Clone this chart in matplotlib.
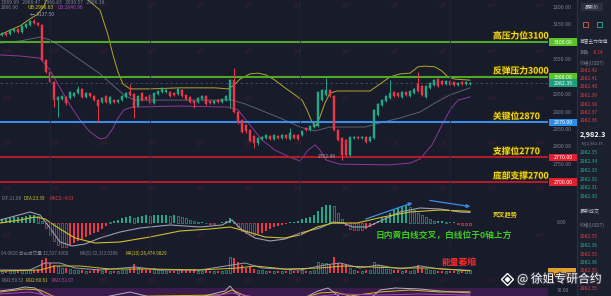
import numpy as np
import matplotlib
matplotlib.use('Agg')
import matplotlib.pyplot as plt
from matplotlib.patches import Rectangle, FancyArrowPatch
import matplotlib.transforms as mtransforms
import matplotlib.patheffects as pe

plt.rcParams['font.family'] = ['Noto Sans CJK SC', 'DejaVu Sans']

# ---------------- DATA ----------------
opens = [3120,3126,3123,3131,3137,3129,3143,3149,3160,3154,
         3149,3049,3014,2986,2934,2937,2943,2940,2946,2954,
         2966,2943,2954,2946,2934,2929,2946,2926,2934,2929,
         2934,2943,2957,2951,2917,2954,2943,2949,2926,2951,
         2957,2957,2957,2954,2951,2963,2949,2943,2931,2929,
         2937,2946,2931,2926,2934,2929,2934,2934,2991,2900,
         2877,2863,2849,2831,2811,2823,2826,2831,2823,2831,
         2826,2834,2823,2834,2834,2834,2854,2849,2857,2860,
         2934,2949,2963,2946,2849,2826,2820,2777,2826,2829,
         2826,2829,2817,2826,2891,2920,2931,2940,2957,2954,
         2943,2957,2946,2954,2980,2974,2943,2969,2977,2994,
         2989,2980,2989,2986,2977,2986,2980,2980]
closes = [3126,3120,3134,3137,3129,3146,3151,3160,3154,3149,
          3049,3014,2986,2934,2943,2946,2926,2957,2954,2966,
          2943,2954,2946,2934,2917,2940,2929,2943,2929,2934,
          2946,2954,2949,2911,2946,2934,2937,2926,2954,2960,
          2969,2963,2946,2949,2966,2946,2937,2929,2926,2940,
          2946,2923,2926,2931,2929,2937,2946,2991,2900,2871,
          2843,2846,2817,2811,2826,2829,2834,2823,2834,2826,
          2834,2826,2840,2826,2823,2846,2849,2860,2866,2957,
          2963,2963,2946,2849,2820,2777,2777,2829,2829,2826,
          2829,2814,2829,2906,2923,2934,2946,2954,2946,2946,
          2957,2949,2960,2966,2960,2949,2974,2983,2991,2974,
          2980,2989,2977,2977,2983,2980,2986,2983]
highs = [3129,3129,3137,3140,3140,3149,3154,3163,3166,3157,
         3152,3052,3017,2989,2946,2949,2946,2960,2957,2974,
         2969,2957,2954,2949,2937,2943,2949,2946,2937,2937,
         2949,2957,2980,2954,2949,2957,2946,2951,2957,2963,
         2972,2966,2960,2957,2969,2966,2951,2946,2934,2943,
         2949,2949,2934,2934,2937,2940,2949,2994,3026,2903,
         2880,2866,2851,2834,2829,2831,2837,2834,2837,2834,
         2837,2837,2854,2837,2837,2849,2857,2863,2869,2960,
         2966,2997,2966,2949,2851,2829,2823,2831,2831,2831,
         2831,2831,2831,2909,2926,2937,2949,2991,2960,2957,
         2960,2960,2963,2969,3014,2977,2977,2986,2994,2997,
         2992,2992,2992,2989,2986,2989,2989,2986]
lows = [3117,3117,3120,3128,3126,3126,3140,3146,3151,3146,
        3046,3011,2983,2914,2886,2934,2920,2937,2943,2951,
        2940,2940,2943,2931,2871,2926,2926,2923,2926,2926,
        2931,2940,2946,2883,2914,2931,2934,2920,2923,2949,
        2954,2954,2943,2946,2949,2943,2934,2926,2911,2926,
        2934,2920,2923,2923,2926,2926,2931,2911,2897,2866,
        2840,2840,2814,2797,2806,2820,2823,2820,2820,2823,
        2823,2823,2820,2823,2820,2831,2846,2846,2854,2857,
        2931,2946,2943,2846,2817,2763,2774,2774,2823,2823,
        2823,2811,2814,2823,2889,2917,2929,2937,2943,2943,
        2940,2946,2943,2951,2957,2946,2940,2966,2974,2971,
        2977,2977,2974,2974,2974,2977,2977,2977]

# volume (thousands)
vol_k = [24,24,36,24,24,36,36,36,36,48,
         156,180,120,96,84,60,60,48,36,36,
         36,24,24,36,48,24,36,24,24,24,
         36,36,48,108,60,48,36,36,60,36,
         36,24,24,24,36,36,36,36,48,24,
         24,36,24,24,24,24,36,192,180,132,
         96,60,72,48,36,36,24,24,24,24,
         24,24,36,24,24,36,24,24,36,132,
         120,120,96,192,120,120,96,60,36,24,
         24,36,36,132,96,84,48,48,36,36,
         24,36,24,36,96,60,48,36,36,24,
         24,24,24,24,24,24,36,36]

macd_hist = [8,10,10,12,12,12,14,16,16,14,
             4,-10,-24,-36,-44,-48,-48,-44,-40,-36,
             -32,-28,-24,-20,-18,-12,-6,2,4,6,
             10,12,14,10,12,14,16,14,16,16,
             16,16,14,16,14,12,10,6,4,2,
             2,1,-1,-1,1,2,4,10,2,-8,
             -16,-20,-24,-24,-22,-20,-16,-12,-8,-6,
             -4,-2,2,2,4,8,10,12,16,24,
             32,36,36,34,20,8,-6,-12,-14,-14,
             -14,-12,-8,-4,4,10,14,20,26,30,
             34,36,32,26,20,16,12,8,4,4,
             4,2,2,2,-2,-3,-4,-4.63]

# line series: (candle index, value)
boll_up_x = [-0.5,2,4.5,7,9,10.5,12,15,18.5,21.5,24.5,26.5,27.75,29,30.25,32,37,44.5,53.25,56.5,58,59.5,62,64,66,68.25,70.75,73.25,75,76.25,77.5,78.5,79.5,80.75,82,83.75,92,94.5,97,99.5,102,104,105.75,108.25,110,111.5,113.25,117]
boll_up = [3120,3134,3146,3166,3180,3203,3243,3306,3277,3220,3191,3120,3063,3014,2980,2966,2966,2969,2969,2966,2977,2994,3009,3011,3006,2991,2969,2949,2934,2906,2871,2860,2886,2926,2954,2960,2960,2980,3000,3009,3011,3029,3031,3029,3017,3000,2994,2991]
boll_mid_x = [-0.5,4.5,9.5,12,14.5,19.5,24.5,28.25,30.75,33.25,39.5,49.5,57.5,60.75,64.5,69.5,74.5,78.25,82,90.75,94.5,99.5,104.5,108.25,112,117]
boll_mid = [3097,3103,3114,3106,3089,3049,3009,2971,2946,2934,2934,2934,2934,2923,2906,2883,2857,2846,2857,2857,2869,2883,2900,2926,2949,2969]
boll_low_x = [-0.5,4.5,9.5,12,14.5,17,19.5,22,24.5,26,27.5,29,30.5,32.5,44.5,56.5,59,62,65,68.25,72,74.5,76.5,78.25,79.5,81,84.5,97,102,104.5,107.5,110,112,114,117]
boll_low = [3063,3060,3054,3020,2969,2920,2877,2843,2823,2826,2849,2883,2906,2914,2917,2914,2906,2863,2820,2791,2771,2760,2791,2806,2791,2763,2751,2749,2754,2766,2806,2863,2906,2934,2943]

dif_x = [-0.5,3.25,7,9.5,12,14.5,17.5,20.75,24.5,29.5,34.5,42,49.5,55,57.5,60,63.25,67,70.75,74.5,79.5,82.75,85.25,87.75,91.25,96.25,99.5,104.5,109.5,114.5,117]
dif = [6,14,22,16,-10,-38,-46,-42,-30,-18,-10,-4,-8,-4,6,-14,-30,-36,-32,-20,-10,2,0,-8,-8,10,22,30,28,22,21.08]
dea_x = [-0.5,4.5,8.25,10.75,14.5,18.25,23.25,29.5,37,44.5,52,57,60.75,65.75,70.75,74.5,78.75,82.75,88.75,95.25,102,109.5,115.25,117]
dea = [0,6,12,8,-12,-30,-40,-38,-28,-16,-12,-8,-16,-28,-30,-24,-8,0,0,12,22,26,24,23.39]

vma5_x = [-0.5,7,10.75,14.5,18.25,24.5,33.25,39.5,49.5,57.5,60.75,65,74.5,80.75,84.5,89.5,94,99.5,104.5,109.5,117]
vma5 = [36,36,120,120,60,36,72,36,36,96,120,60,36,96,120,60,96,48,84,48,32]
vma10_x = [-0.5,9.5,13.25,19.5,27,37,49.5,59,63.25,70.75,79.5,85.25,92,99.5,107,117]
vma10 = [24,36,84,84,48,48,36,60,84,48,60,84,72,60,60,26]

rsi1_x = [-0.5,3.25,5.75,8.25,10.75,13.25,24.5,32,37,49.5,55.75,57,58.5,60.75,74.5,79,81.5,84.5,92.5,94.5,98.25,104.5,109.5,117]
rsi1 = [62.5,67.5,72.5,70,50,40,45,60,47.5,47.5,62.5,75,57.5,40,40,62.5,70,47.5,47.5,65,70,67.5,62.5,57.5]
rsi2_x = [-0.5,5.75,9.5,13.25,24.5,37,54.5,57.5,62,74.5,79.5,83.25,87,94.5,102,109.5,117]
rsi2 = [60,67.5,65,47.5,45,50,52.5,65,45,42.5,57.5,60,50,60,65,60,60.61]
rsi3_x = [-0.5,7,12,24.5,49.5,57.5,64.5,79.5,84.5,94.5,104.5,117]
rsi3 = [55,60,50,42.5,45,57.5,45,50,55,52.5,55,52.07]

levels = [3100, 3000, 2870, 2770, 2700]
level_names = ['高压力位3100', '反弹压力3000', '关键位2870', '支撑位2770', '底部支撑2700']
level_colors = ['#4fa826', '#4fa826', '#3a8ee6', '#b01c2a', '#b01c2a']
box_colors = ['#5cc22a', '#5cc22a', '#2f8fe8', '#e0202e', '#e0202e']
axis_ticks = [3200, 3150, 3050, 2950, 2900, 2850, 2800, 2750]
last_price = 2982.35

ask_prices = ['2982.42', '2982.41', '2982.40', '2982.39', '2982.38', '2982.37', '2982.36']
bid_prices = ['2982.35', '2982.34', '2982.33', '2982.32', '2982.31', '2982.30']
trade_prices = ['2982.35', '2982.36', '2982.35', '2982.36', '2982.35', '2982.35', '2982.35']
trade_up = [False, True, False, True, False, False, False]

# ---------------- STYLE ----------------
W, H = 611, 296
BG = '#181b2a'
GREEN = '#22a884'
RED = '#e8394a'
GRAYTXT = '#7d8294'

fig = plt.figure(figsize=(W/100, H/100), dpi=100, facecolor=BG)

def px_axes(x0, y0, x1, y1):
    return fig.add_axes([x0/W, 1 - y1/H, (x1-x0)/W, (y1-y0)/H])

CH_R = 548
ax = px_axes(0, 0, CH_R, 195)
ax_m = px_axes(0, 195, CH_R, 250)
ax_v = px_axes(0, 250, CH_R, 276)
ax_r = px_axes(0, 276, CH_R, 296)
ov = fig.add_axes([0, 0, 1, 1], zorder=10)
ov.set_xlim(0, W); ov.set_ylim(H, 0); ov.axis('off'); ov.patch.set_alpha(0)

XL = (-0.5, (CH_R - 2) / 4)
for a in (ax, ax_m, ax_v, ax_r):
    a.set_facecolor(BG)
    a.set_xlim(*XL)
    a.set_xticks([]); a.set_yticks([])
    for s in a.spines.values():
        s.set_visible(False)

ax.set_ylim(3000 - 118/0.35, 3220)
ax_m.set_ylim(-54, 56)
ax_v.set_ylim(-36, 276)
ax_r.set_ylim(50, 100)

# right panel background
ov.add_patch(Rectangle((577, 0), 34, H, fc='#1c1f2e', ec='none', zorder=0))
ov.plot([577, 577], [0, H], color='#2c3042', lw=0.8)

# watermarks
for gy in [5, 51, 98, 143, 188, 235, 280]:
    for gx in np.arange(7, 545, 48.5):
        ov.text(gx, gy, 'DKX', color='#6a2a38', fontsize=3.2, alpha=0.5,
                rotation=18, ha='center', va='center', zorder=1)

# faint grid
for gx in [50, 150, 300, 450]:
    ov.plot([gx, gx], [0, 250], color='#20243a', lw=0.5, zorder=0.5)

# candles
idx = np.arange(len(opens))
for i in idx:
    o, c, h, l = opens[i], closes[i], highs[i], lows[i]
    col = GREEN if c >= o else RED
    ax.vlines(i, l, h, color=col, lw=0.7, zorder=3)
    ax.add_patch(Rectangle((i - 0.36, min(o, c)), 0.72, max(abs(c - o), 1.5),
                           fc=col, ec=col, lw=0.3, zorder=4))

# bollinger
ax.plot(boll_up_x, boll_up, color='#b4a62a', lw=0.7, zorder=2)
ax.plot(boll_mid_x, boll_mid, color='#5c6174', lw=0.7, zorder=2)
ax.plot(boll_low_x, boll_low, color='#8e3898', lw=0.7, zorder=2)

# current price dashed
ax.axhline(last_price, color='#4a5064', lw=0.6, ls=(0, (3, 3)), zorder=1)

# level lines
for lv, col in zip(levels, level_colors):
    ax.axhline(lv, color=col, lw=1.5, zorder=2.5)

yel = '#f2dc1e'
for lv, name in zip(levels, level_names):
    ax.text((493 - 2) / 4, lv + 4, name, color=yel, fontsize=6.3, fontweight='bold',
            ha='left', va='bottom', zorder=6,
            path_effects=[pe.withStroke(linewidth=1.2, foreground='#3a3010')])

# price axis labels
bt = mtransforms.blended_transform_factory(ov.transData, ax.transData)
for t in axis_ticks:
    ov.text(553, t, f'{t:.2f}', transform=bt, color=GRAYTXT, fontsize=3.8,
            ha='left', va='center')
for lv, bc in zip(levels, box_colors):
    ov.add_patch(Rectangle((549, lv - 11), 28, 22, transform=bt, fc=bc, ec='none', zorder=5))
    ov.text(563, lv, f'{lv:.2f}', transform=bt, color='white', fontsize=3.8,
            ha='center', va='center', zorder=6)
ov.add_patch(Rectangle((549, last_price - 11), 28, 22, transform=bt, fc='#1f9c7c', ec='none', zorder=5))
ov.text(563, last_price, f'{last_price:.2f}', transform=bt, color='white', fontsize=3.8,
        ha='center', va='center', zorder=6)

# top title texts
ov.text(1, 2.5, '3069.99   2968.47   2966.83   3030.57   2996.38', color=GRAYTXT, fontsize=3.6, va='center')
ov.text(1, 7.5, '2966.90', color=GRAYTXT, fontsize=3.6, va='center')
ov.text(27, 7.5, 'UB:2996.63', color='#d8c82a', fontsize=3.6, va='center')
ov.text(57, 7.5, 'LB:2840.96', color='#b048b8', fontsize=3.6, va='center')
ov.text(30, 14, '← 3137.50', color='#a0a4b4', fontsize=3.6, va='center')
ov.text(318, 156, '2762.48', color='#a0a4b4', fontsize=3.6, va='center')

# ---------------- MACD ----------------
for i in idx:
    v = macd_hist[i]
    prev = macd_hist[i - 1] if i > 0 else v
    col = GREEN if v >= 0 else RED
    growing = abs(v) >= abs(prev)
    if (v >= 0 and growing) or (v < 0 and not growing):
        ax_m.bar(i, v, width=0.62, color=col, lw=0)
    else:
        ax_m.bar(i, v, width=0.62, color='none', edgecolor=col, lw=0.5)
ax_m.plot(dif_x, dif, color='#9a9eb0', lw=0.8)
ax_m.plot(dea_x, dea, color='#cfc02a', lw=0.8)
ov.text(1, 198, 'DIF:21.08', color=GRAYTXT, fontsize=3.3, va='center')
ov.text(24, 198, 'DEA:23.39', color='#d8c82a', fontsize=3.3, va='center')
ov.text(49, 198, 'MACD:-4.63', color='#e0404e', fontsize=3.3, va='center')
ov.text(557, 223, '0.00', color=GRAYTXT, fontsize=3.6, va='center')

ov.add_patch(FancyArrowPatch((363, 220), (415, 202), arrowstyle='-|>', mutation_scale=5,
                             color='#3a8ee6', lw=0.9))
ov.add_patch(FancyArrowPatch((427, 200), (473, 207), arrowstyle='-|>', mutation_scale=5,
                             color='#3a8ee6', lw=0.9))
ov.text(493, 214, '死叉趋势', color='#e8d020', fontsize=4.5, fontweight='bold', va='center')
ov.text(376, 235, '日内黄白线交叉，白线位于0轴上方', color='#3cc820', fontsize=6.3,
        fontweight='bold', va='center')

# ---------------- VOLUME ----------------
for i in idx:
    col = GREEN if closes[i] >= opens[i] else RED
    if closes[i] >= opens[i]:
        ax_v.bar(i, vol_k[i], width=0.62, color='none', edgecolor=col, lw=0.5)
    else:
        ax_v.bar(i, vol_k[i], width=0.62, color=col, lw=0)
ax_v.plot(vma5_x, vma5, color='#9a9eb0', lw=0.7)
ax_v.plot(vma10_x, vma10, color='#cfc02a', lw=0.7)
ov.text(1, 253, '04.0610 当前成交量 32,527.4300', color=GRAYTXT, fontsize=3.3, va='center')
ov.text(80, 253, 'MA(5):32,313.0306', color=GRAYTXT, fontsize=3.3, va='center')
ov.text(126, 253, 'MA(10):26,474.9829', color='#d8c82a', fontsize=3.3, va='center')
ov.text(442, 262, '能量萎缩', color='#ff2a2a', fontsize=6.3, fontweight='bold', va='center')

# ---------------- RSI ----------------
ax_r.axhspan(30, 70, color='#3b1a4c', lw=0)
ax_r.plot(rsi1_x, rsi1, color='#b0b4c4', lw=0.7)
ax_r.plot(rsi2_x, rsi2, color='#cfc02a', lw=0.7)
ax_r.plot(rsi3_x, rsi3, color='#b048b8', lw=0.7)
ov.text(1, 281, 'RSI1:59.53', color=GRAYTXT, fontsize=3.3, va='center')
ov.text(26, 281, 'RSI2:60.61', color='#d8c82a', fontsize=3.3, va='center')
ov.text(51, 281, 'RSI3:52.07', color='#b048b8', fontsize=3.3, va='center')
ov.text(557, 290, '70.00', color=GRAYTXT, fontsize=3.6, va='center')

# ---------------- RIGHT PANEL ----------------
ov.add_patch(Rectangle((581, 3), 22, 8, fc='#2c3042', ec='none'))
ov.text(592, 7, '最新价', color='#c0c4d0', fontsize=3.4, ha='center', va='center')
ov.add_patch(Rectangle((583, 22), 5, 5, fc='none', ec='#e0603a', lw=0.6))
ov.add_patch(Rectangle((597, 22), 5, 5, fc='none', ec='#2ab090', lw=0.6))
ov.text(580, 41, '首富主力估值', color='#c0c4d0', fontsize=3.4, va='center')
ov.text(580, 52, '涨跌', color=GRAYTXT, fontsize=3.4, va='center')
ov.text(593, 52, '-0.14', color=RED, fontsize=3.4, va='center')
ov.text(580, 63, '价格(USDT)', color=GRAYTXT, fontsize=3.4, va='center')
for k, p in enumerate(ask_prices):
    ov.text(580, 70 + k * 8.5, p, color='#d8404e', fontsize=3.6, va='center')
ov.text(580, 134, '2,982.3', color='white', fontsize=5.2, fontweight='bold', va='center')
ov.text(580, 143, '≈$2,982.35', color=GRAYTXT, fontsize=3.0, va='center')
for k, p in enumerate(bid_prices):
    ov.text(580, 153 + k * 8.7, p, color='#2ab090', fontsize=3.6, va='center')
ov.text(580, 212, '最新成交', color='#c0c4d0', fontsize=3.6, va='center')
ov.text(580, 225, '价格(USDT)', color=GRAYTXT, fontsize=3.4, va='center')
for k, (p, up) in enumerate(zip(trade_prices, trade_up)):
    ov.text(580, 237 + k * 8.5, p, color='#2ab090' if up else '#d8404e', fontsize=3.6, va='center')

ov.add_patch(Rectangle((548, 268), 28, 9, fc='#e0a030', ec='none', zorder=4))

# logo watermark
ov.plot([507], [279], marker='D', ms=6, mfc='none', mec='white', mew=1.0, zorder=12)
ov.plot([507], [279], marker='D', ms=2.2, mfc='white', mec='white', zorder=12)
ov.text(517, 279, '@ 徐姐专研合约', color='white', fontsize=8.5, va='center', zorder=12,
        path_effects=[pe.withStroke(linewidth=1.5, foreground='#303040')])

fig.savefig('out.png', dpi=100, facecolor=BG)
